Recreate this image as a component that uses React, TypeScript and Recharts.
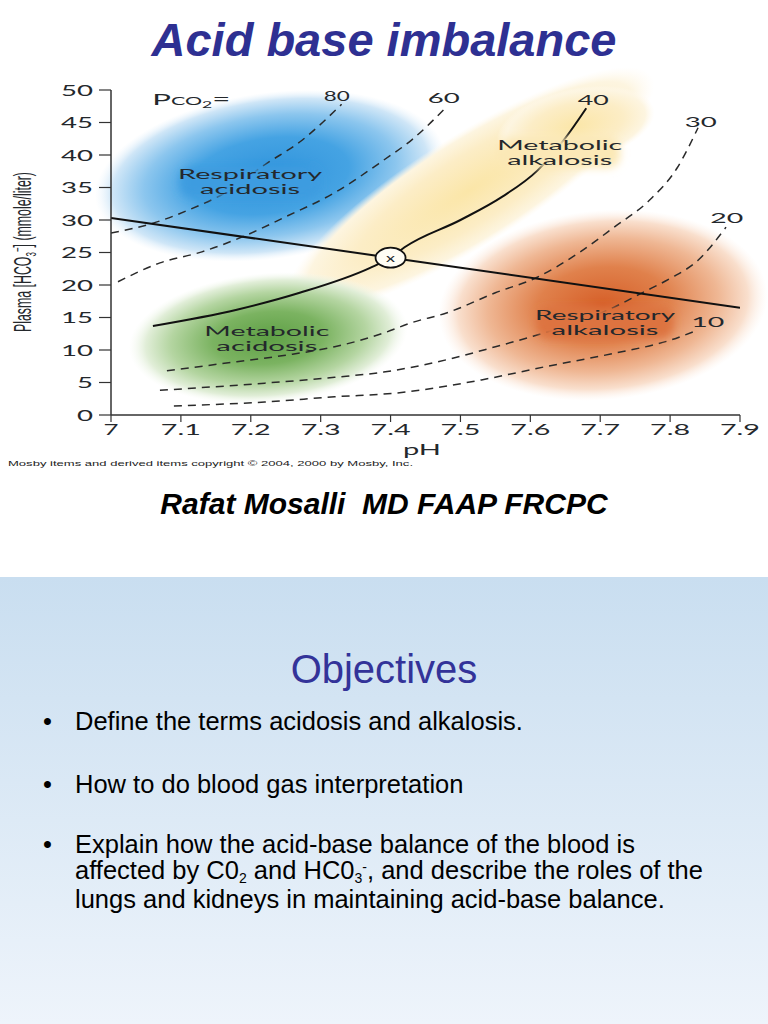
import React from "react"
import { LineChart, Line, XAxis, YAxis, ReferenceArea, ReferenceDot } from "recharts"

// pH / plasma bicarbonate diagram
const phTicks = [7, 7.1, 7.2, 7.3, 7.4, 7.5, 7.6, 7.7, 7.8, 7.9]
const hco3Ticks = [0, 5, 10, 15, 20, 25, 30, 35, 40, 45, 50]

// [pH, HCO3-] along each PCO2 isobar
const pco2_80 = [[7.0, 28.0], [7.06, 29.5], [7.11, 31.5], [7.17, 34.6], [7.22, 38.5], [7.27, 42.0], [7.33, 47.8]]
const pco2_60 = [[7.01, 20.5], [7.07, 23.4], [7.13, 25.1], [7.19, 27.5], [7.25, 30.5], [7.32, 34.2], [7.39, 39.2], [7.43, 42.3], [7.48, 47.4]]
const pco2_40 = [[7.06, 13.7], [7.18, 16.2], [7.27, 18.8], [7.37, 22.6], [7.4, 24.2], [7.42, 25.8], [7.5, 30.0], [7.56, 33.6], [7.61, 37.6], [7.65, 42.6], [7.68, 47.2]]
const pco2_30 = [[7.08, 6.8], [7.18, 8.2], [7.25, 9.2], [7.32, 10.5], [7.39, 12.6], [7.43, 14.2], [7.48, 15.7], [7.55, 18.8], [7.61, 21.2], [7.67, 25.0], [7.72, 28.9], [7.77, 33.0], [7.81, 38.0], [7.84, 44.2]]
const pco2_20 = [[7.07, 3.8], [7.22, 4.9], [7.32, 5.8], [7.39, 6.6], [7.48, 8.5], [7.55, 10.5], [7.6, 12.0], [7.72, 16.6], [7.76, 18.8], [7.8, 21.0], [7.84, 23.8], [7.88, 28.9]]
const pco2_10 = [[7.09, 1.4], [7.22, 2.0], [7.32, 2.8], [7.41, 3.4], [7.53, 5.4], [7.62, 7.4], [7.72, 9.5], [7.8, 11.5], [7.84, 13.1]]
// buffer line through the normal point
const buffer = [[7.0, 30.3], [7.4, 24.2], [7.9, 16.5]]
const normal = [7.4, 24.2]

const toPts = (arr: number[][]) => arr.map(([ph, hco3]) => ({ ph, hco3 }))

const bullets = [
  "Define the terms acidosis and alkalosis.",
  "How to do blood gas interpretation",
]

const TITLE_BLUE = "#2E3092"
const INK = "#24282c"

function Wide({ x, y, w, size = 13.5, anchor = "middle", children }: any) {
  return (
    <text x={x} y={y} textAnchor={anchor} fontFamily="Lato, sans-serif" fontSize={size} fill={INK}
      textLength={w} lengthAdjust="spacingAndGlyphs">
      {children}
    </text>
  )
}

const renderYTick = (p: any) => {
  const s = String(p.payload.value)
  return <Wide x={p.x} y={p.y + 5.5} w={s.length * 16} size={15} anchor="end">{s}</Wide>
}

const renderXTick = (p: any) => {
  const s = String(p.payload.value)
  const w = s.length === 1 ? 15 : 40
  return <Wide x={p.x} y={p.y + 11} w={w} size={15}>{s}</Wide>
}

// soft elliptical blob filling a reference area
const blob = (fill: string, angle: number) => (p: any) => {
  const cx = p.x + p.width / 2
  const cy = p.y + p.height / 2
  return (
    <ellipse cx={cx} cy={cy} rx={Math.abs(p.width) / 2} ry={Math.abs(p.height) / 2}
      fill={fill} transform={`rotate(${angle} ${cx} ${cy})`} />
  )
}

// two-line region name; an optional soft patch hides the isobars running behind it
const regionLabel = (l1: string, w1: number, l2: string, w2: number, patch?: string) => (p: any) => (
  <g>
    {patch && (
      <rect x={p.cx - w1 / 2 + 2} y={p.cy - 12} width={w1 - 4} height={30} rx={12}
        fill={patch} filter="url(#soft)" />
    )}
    <Wide x={p.cx} y={p.cy} w={w1}>{l1}</Wide>
    <Wide x={p.cx} y={p.cy + 15} w={w2}>{l2}</Wide>
  </g>
)

const isoLabel = (s: string, w: number) => (p: any) => (
  <Wide x={p.cx} y={p.cy} w={w} size={14}>{s}</Wide>
)

export default function App() {
  const dashed = { stroke: "#2a2a2a", strokeWidth: 1.5, strokeDasharray: "8 6", dot: false, isAnimationActive: false }
  const top = { zIndex: 2000 } as any
  return (
    <div style={{ position: "relative", width: 768, height: 1024, background: "#fff", overflow: "hidden",
      fontFamily: '"Liberation Sans", Arial, sans-serif' }}>
      <style>{"body{margin:0}"}</style>

      <div style={{ position: "absolute", top: 0, left: 0 }}>
        <LineChart width={768} height={470} margin={{ top: 90, right: 28, bottom: 25, left: 51 }}>
          <defs>
            <filter id="soft" x="-20%" y="-50%" width="140%" height="200%">
              <feGaussianBlur stdDeviation="4" />
            </filter>
            <radialGradient id="gBlue" cx="50%" cy="50%" r="50%">
              <stop offset="0%" stopColor="#2f93dc" />
              <stop offset="45%" stopColor="#45a3e3" />
              <stop offset="72%" stopColor="#8cc6ee" />
              <stop offset="90%" stopColor="#cfe6f7" />
              <stop offset="100%" stopColor="#eaf4fc" stopOpacity={0} />
            </radialGradient>
            <radialGradient id="gYellow" cx="50%" cy="50%" r="50%">
              <stop offset="0%" stopColor="#fbe6a8" />
              <stop offset="60%" stopColor="#fcedc6" />
              <stop offset="88%" stopColor="#fdf5e0" />
              <stop offset="100%" stopColor="#fffaf0" stopOpacity={0} />
            </radialGradient>
            <radialGradient id="gGreen" cx="50%" cy="50%" r="50%">
              <stop offset="0%" stopColor="#5e9f45" />
              <stop offset="40%" stopColor="#7bb361" />
              <stop offset="70%" stopColor="#b4d5a1" />
              <stop offset="88%" stopColor="#e1eed8" />
              <stop offset="100%" stopColor="#f4f9f0" stopOpacity={0} />
            </radialGradient>
            <radialGradient id="gOrange" cx="50%" cy="50%" r="50%">
              <stop offset="0%" stopColor="#d65f28" />
              <stop offset="40%" stopColor="#e0814c" />
              <stop offset="70%" stopColor="#efb794" />
              <stop offset="88%" stopColor="#f9dfcd" />
              <stop offset="100%" stopColor="#fdf1e8" stopOpacity={0} />
            </radialGradient>
          </defs>

          <XAxis type="number" dataKey="ph" domain={[7, 7.9]} ticks={phTicks} allowDataOverflow
            height={30} tickSize={7} tickMargin={2} tick={renderXTick}
            axisLine={{ stroke: "#333", strokeWidth: 1.5 }} tickLine={{ stroke: "#333", strokeWidth: 1.2 }} />
          <YAxis type="number" dataKey="hco3" domain={[0, 50]} ticks={hco3Ticks} allowDataOverflow
            width={60} tickSize={12} tickMargin={6} tick={renderYTick}
            axisLine={{ stroke: "#333", strokeWidth: 1.5 }} tickLine={{ stroke: "#333", strokeWidth: 1.2 }} />

          <ReferenceArea x1={6.975} x2={7.48} y1={24.0} y2={49.6} ifOverflow="visible" shape={blob("url(#gBlue)", -8)} />
          <ReferenceArea x1={7.206} x2={7.821} y1={26.1} y2={43.1} ifOverflow="visible" shape={blob("url(#gYellow)", -32)} />
          <ReferenceArea x1={7.55} x2={7.78} y1={38.8} y2={50.2} ifOverflow="visible" shape={blob("url(#gYellow)", -12)} />
          <ReferenceArea x1={7.025} x2={7.425} y1={1.85} y2={21.85} ifOverflow="visible" shape={blob("url(#gGreen)", -5)} />
          <ReferenceArea x1={7.468} x2={7.94} y1={2.3} y2={31.5} ifOverflow="visible" shape={blob("url(#gOrange)", -5)} />

          <Line data={toPts(pco2_80)} dataKey="hco3" type="monotone" {...dashed} />
          <Line data={toPts(pco2_60)} dataKey="hco3" type="monotone" {...dashed} />
          <Line data={toPts(pco2_30)} dataKey="hco3" type="monotone" {...dashed} />
          <Line data={toPts(pco2_20)} dataKey="hco3" type="monotone" {...dashed} />
          <Line data={toPts(pco2_10)} dataKey="hco3" type="monotone" {...dashed} />
          <Line data={toPts(pco2_40)} dataKey="hco3" type="monotone" stroke="#111" strokeWidth={2}
            dot={false} isAnimationActive={false} />
          <Line data={toPts(buffer)} dataKey="hco3" type="linear" stroke="#111" strokeWidth={2}
            dot={false} isAnimationActive={false} />

          <ReferenceDot {...top} x={normal[0]} y={normal[1]} r={0} shape={(p: any) => (
            <g>
              <ellipse cx={p.cx} cy={p.cy} rx={15} ry={10} fill="#fffdf4" stroke="#111" strokeWidth={1.8} />
              <Wide x={p.cx} y={p.cy + 4} w={9} size={12}>x</Wide>
            </g>
          )} />

          <ReferenceDot {...top} x={7.323} y={48.3} r={0} shape={isoLabel("80", 26)} />
          <ReferenceDot {...top} x={7.476} y={48.0} r={0} shape={isoLabel("60", 32)} />
          <ReferenceDot {...top} x={7.69} y={47.7} r={0} shape={isoLabel("40", 31)} />
          <ReferenceDot {...top} x={7.844} y={44.3} r={0} shape={isoLabel("30", 32)} />
          <ReferenceDot {...top} x={7.881} y={29.5} r={0} shape={isoLabel("20", 33)} />
          <ReferenceDot {...top} x={7.854} y={13.5} r={0} shape={isoLabel("10", 33)} />
          <ReferenceDot {...top} x={7.059} y={47.7} r={0} shape={(p: any) => (
            <text x={p.cx} y={p.cy} fontFamily="Lato, sans-serif" fill={INK} textLength={78} lengthAdjust="spacingAndGlyphs">
              <tspan fontSize={16}>P</tspan><tspan fontSize={11}>CO</tspan>
              <tspan fontSize={9} dy={3}>2</tspan><tspan fontSize={16} dy={-3}>=</tspan>
            </text>
          )} />

          <ReferenceDot {...top} x={7.199} y={36.3} r={0} shape={regionLabel("Respiratory", 144, "acidosis", 100, "#3c9ce0")} />
          <ReferenceDot {...top} x={7.642} y={40.8} r={0} shape={regionLabel("Metabolic", 125, "alkalosis", 105, "#fbe8b6")} />
          <ReferenceDot {...top} x={7.223} y={12.2} r={0} shape={regionLabel("Metabolic", 125, "acidosis", 101)} />
          <ReferenceDot {...top} x={7.707} y={14.6} r={0} shape={regionLabel("Respiratory", 140, "alkalosis", 107, "#dd7341")} />
        </LineChart>
      </div>

      <svg width={768} height={480} style={{ position: "absolute", top: 0, left: 0, pointerEvents: "none" }}>
        <text transform="translate(31,252) rotate(-90) scale(1,1.7)" textAnchor="middle"
          fontFamily='"Liberation Sans", Arial, sans-serif' fontSize={14} fill={INK}
          textLength={160} lengthAdjust="spacingAndGlyphs">
          Plasma [HCO<tspan fontSize={9} dy={3}>3</tspan><tspan fontSize={9} dy={-8}>−</tspan><tspan dy={5}>] (mmole/liter)</tspan>
        </text>
        <Wide x={422} y={455} w={38} size={16}>pH</Wide>
        <text x={8} y={466} fontFamily='"Liberation Sans", Arial, sans-serif' fontSize={8} fill="#222"
          textLength={405} lengthAdjust="spacingAndGlyphs">
          Mosby items and derived items copyright © 2004, 2000 by Mosby, Inc.
        </text>
      </svg>

      <div style={{ position: "absolute", top: 16, left: 0, width: 768, textAlign: "center", fontSize: 47,
        lineHeight: 1, fontWeight: "bold", fontStyle: "italic", color: TITLE_BLUE }}>
        Acid base imbalance
      </div>

      <div style={{ position: "absolute", top: 489, left: 0, width: 768, textAlign: "center", fontSize: 30,
        lineHeight: 1, fontWeight: "bold", fontStyle: "italic", color: "#000", whiteSpace: "pre" }}>
        {"Rafat Mosalli  MD FAAP FRCPC"}
      </div>

      <div style={{ position: "absolute", top: 577, left: 0, width: 768, height: 447,
        background: "linear-gradient(to bottom, #c9def0, #eef4fb)" }}>
        <div style={{ position: "absolute", top: 72, left: 0, width: 768, textAlign: "center", fontSize: 40,
          lineHeight: 1, color: "#333399" }}>
          Objectives
        </div>
        {bullets.map((b, i) => (
          <div key={i} style={{ position: "absolute", top: 132 + i * 63, left: 0, fontSize: 25.5, lineHeight: "25.5px" }}>
            <span style={{ position: "absolute", left: 43 }}>•</span>
            <span style={{ position: "absolute", left: 75, whiteSpace: "nowrap" }}>{b}</span>
          </div>
        ))}
        <div style={{ position: "absolute", top: 255, left: 0, width: 768, fontSize: 25.5, lineHeight: "25.5px" }}>
          <span style={{ position: "absolute", left: 43 }}>•</span>
          <div style={{ position: "absolute", left: 75, whiteSpace: "nowrap" }}>
            Explain how the acid-base balance of the blood is<br />
            affected by C0<span style={{ fontSize: "0.55em", position: "relative", top: "0.3em" }}>2</span> and HC0
            <span style={{ fontSize: "0.55em", position: "relative", top: "0.3em" }}>3</span>
            <span style={{ fontSize: "0.55em", position: "relative", top: "-0.5em" }}>-</span>, and describe the roles of the<br />
            lungs and kidneys in maintaining acid-base balance.
          </div>
        </div>
      </div>
    </div>
  )
}
